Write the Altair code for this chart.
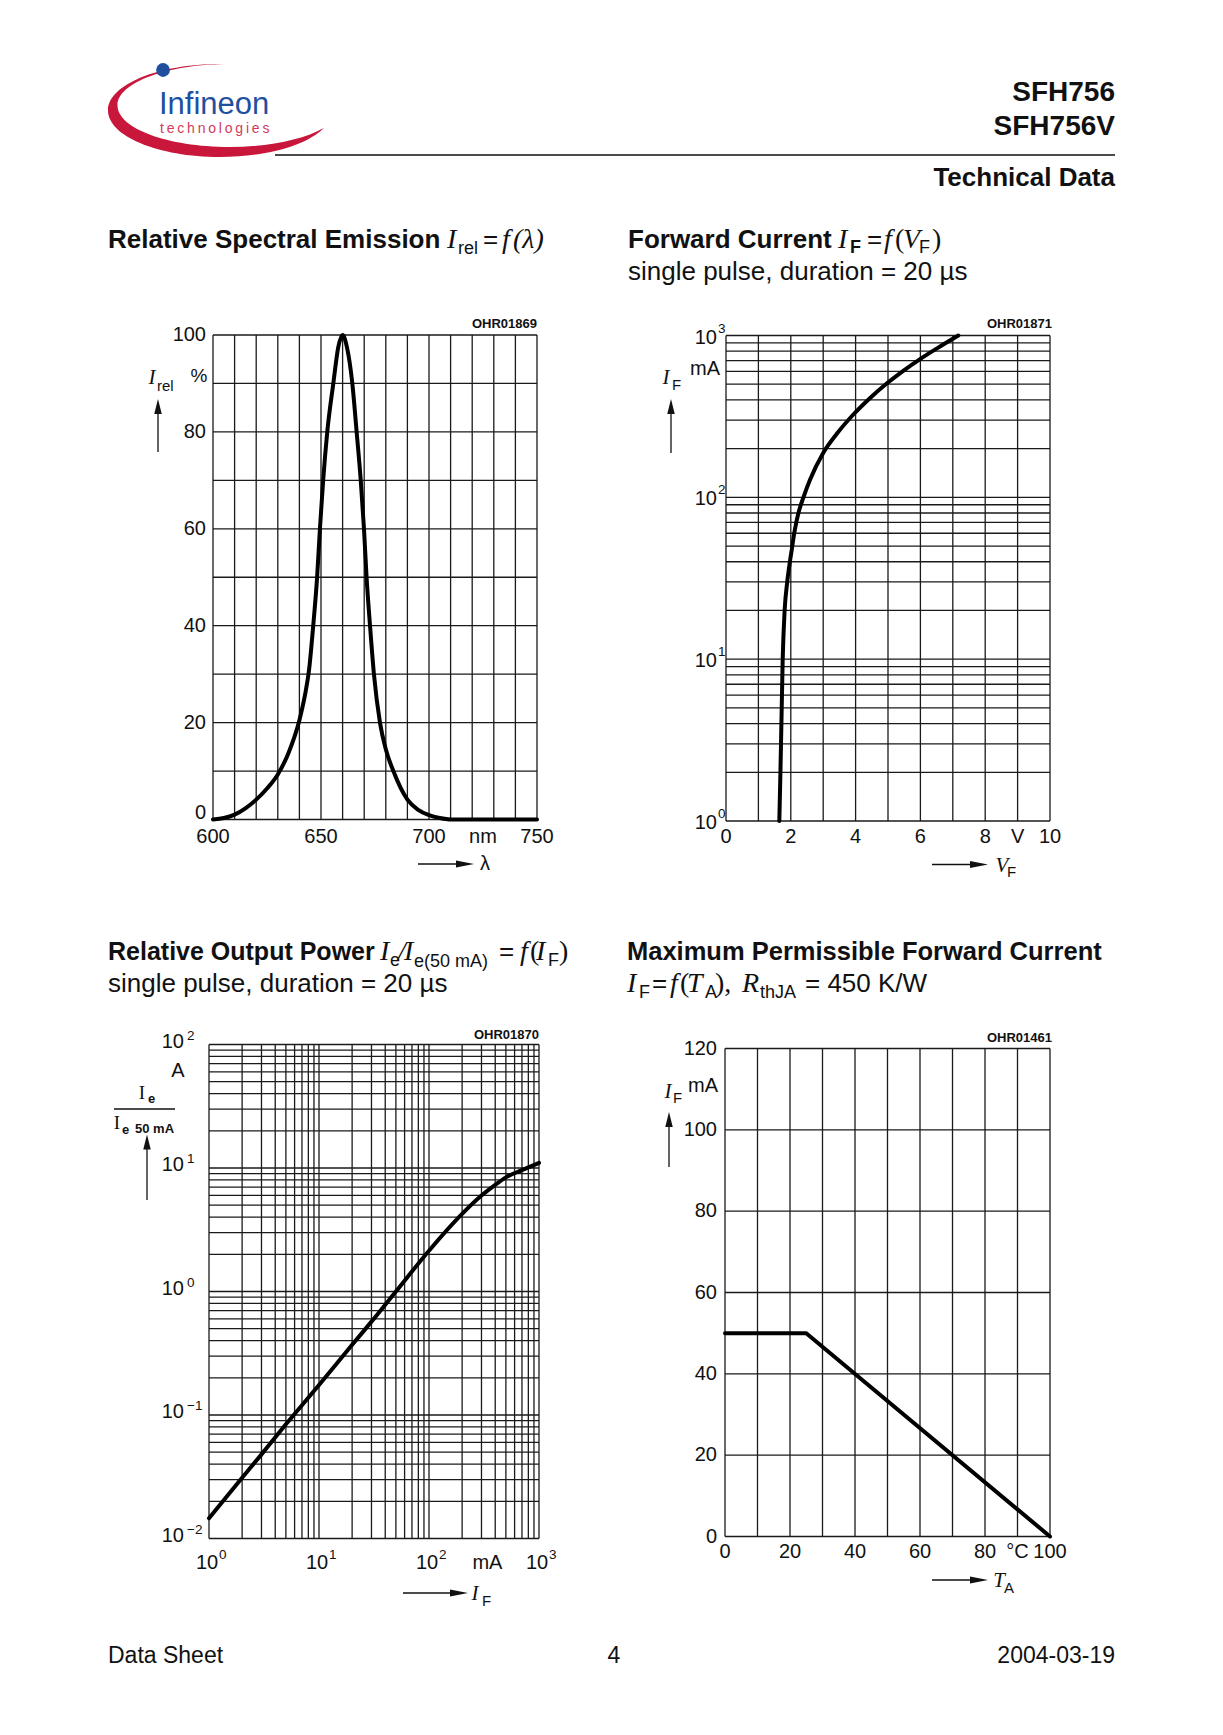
import altair as alt
import pandas as pd

# ---------------- data ----------------
# Relative spectral emission
WAVELENGTH_NM = [600, 605, 610, 615, 620, 625, 630, 635, 640, 642.5, 644.5, 646.4, 648.2,
                 649.5, 651.0, 652.9, 655.7, 658.0, 660.0, 662.0, 664.5, 666.5, 668.4,
                 669.9, 671.1, 672.7, 674.5, 677.3, 680, 683.5, 690, 695, 700, 705, 710, 720, 750]
I_REL_PCT = [0, 0.3, 1.0, 2.3, 4.1, 6.4, 9.3, 13.8, 20.5, 25.5, 31, 40, 50,
             60, 70, 80, 90, 97.5, 100, 97.5, 90, 80, 70,
             60, 50, 40, 30, 20, 14.5, 10, 4.1, 2.0, 0.9, 0.3, 0, 0, 0]

# Forward current vs forward voltage
VF_V = [1.646, 1.68, 1.71, 1.75, 1.81, 1.89, 1.98, 2.04, 2.10, 2.17, 2.25, 2.39, 2.59,
        3.00, 3.42, 3.93, 4.44, 4.96, 5.47, 5.99, 6.50, 7.17]
IF_MA = [1, 2, 4, 10, 20, 30, 41, 49, 59, 70, 82, 100, 128,
         188, 247, 325, 410, 505, 605, 715, 830, 1000]

# Relative output power vs forward current
IF3_MA = [1, 2, 3, 5, 10, 20, 30, 50, 100, 200, 300, 400, 500, 700, 1000]
IE_REL = [0.0146, 0.031, 0.048, 0.084, 0.175, 0.37, 0.57, 1.0, 2.14, 4.25, 5.98,
          7.3, 8.4, 9.6, 11.0]

# Maximum permissible forward current vs ambient temperature
TA_C = [0, 25, 100]
IF_MAX_MA = [50, 50, 0]

# ---------------- grids and tick labels ----------------
LOG_MANT = [1, 2, 3, 4, 5, 6, 7, 8, 9]

P1_XGRID = list(range(600, 751, 10))
P1_YGRID = list(range(0, 101, 10))
P1_XTICKS = [600, 650, 700, 725, 750]
P1_XTICK_LABELS = ["600", "650", "700", "nm", "750"]
P1_YTICKS = [20, 40, 60, 80, 100]
P1_YTICK_LABELS = ["20", "40", "60", "80", "100"]
P1_YZERO = [0]
P1_YZERO_LABEL = ["0"]

P2_XGRID = list(range(0, 11))
P2_DECADES = [1, 10, 100]
P2_YGRID = [m * d for d in P2_DECADES for m in LOG_MANT] + [1000]
P2_XTICKS = [0, 2, 4, 6, 8, 9, 10]
P2_XTICK_LABELS = ["0", "2", "4", "6", "8", "V", "10"]
P2_YTICKS = [1, 10, 100, 1000]
P2_YTICK_EXP = ["0", "1", "2", "3"]

P3_XDECADES = [1, 10, 100]
P3_XGRID = [m * d for d in P3_XDECADES for m in LOG_MANT] + [1000]
P3_YDECADES = [0.01, 0.1, 1, 10]
P3_YGRID = [m * d for d in P3_YDECADES for m in LOG_MANT] + [100]
P3_XTICKS = [1, 10, 100, 1000]
P3_XTICK_EXP = ["0", "1", "2", "3"]
P3_YTICKS = [0.01, 0.1, 1, 10, 100]
P3_YTICK_EXP = ["\u22122", "\u22121", "0", "1", "2"]

P4_XGRID = list(range(0, 101, 10))
P4_YGRID = list(range(0, 121, 20))
P4_XTICKS = [0, 20, 40, 60, 80, 90, 100]
P4_XTICK_LABELS = ["0", "20", "40", "60", "80", "\u00b0C", "100"]
P4_YTICKS = [0, 20, 40, 60, 80, 100, 120]
P4_YTICK_LABELS = ["0", "20", "40", "60", "80", "100", "120"]

# ---------------- styling ----------------
SANS = "Liberation Sans, Arial, Helvetica, sans-serif"
SERIF = "Liberation Serif, Times New Roman, serif"
INK = "#111111"
GRID = "#1a1a1a"
RED = "#c8173a"
PINK = "#d23a5c"
BLUE = "#1f4f9f"
TICK = 20
SUP = 13.5

OFF = 8  # page margin
def X(v):
    return v - OFF
def Y(v):
    return v - OFF

ONE = pd.DataFrame({"k": [0]})
layers = []


def txt(s, x, y, size=TICK, font=SANS, weight="normal", style="normal",
        align="left", color=INK, baseline="middle"):
    layers.append(
        alt.Chart(ONE).mark_text(text=s, fontSize=size, font=font, fontWeight=weight,
                                 fontStyle=style, align=align, baseline=baseline,
                                 color=color)
        .encode(x=alt.value(X(x)), y=alt.value(Y(y)))
    )


def hrule(x1, x2, y, width=1.3, color=INK):
    layers.append(alt.Chart(ONE).mark_rule(color=color, strokeWidth=width)
                  .encode(x=alt.value(X(x1)), x2=alt.value(X(x2)), y=alt.value(Y(y))))


def vrule(x, y1, y2, width=1.3, color=INK):
    layers.append(alt.Chart(ONE).mark_rule(color=color, strokeWidth=width)
                  .encode(x=alt.value(X(x)), y=alt.value(Y(y1)), y2=alt.value(Y(y2))))


def symbol(shape, x, y, size, color=INK):
    layers.append(alt.Chart(ONE).mark_point(shape=shape, size=size, filled=True,
                                            color=color, opacity=1, strokeWidth=0)
                  .encode(x=alt.value(X(x)), y=alt.value(Y(y))))


ARROW_UP = "M 0 -1 L 0.5 1 L -0.5 1 Z"
ARROW_RIGHT = "M 1 0 L -1 -0.4 L -1 0.4 Z"


def arrow_up(x, tip, bottom):
    vrule(x, tip + 8, bottom, 1.3)
    symbol(ARROW_UP, x, tip + 7.5, 225)


def arrow_right(x1, tip, y):
    hrule(x1, tip - 8, y, 1.3)
    symbol(ARROW_RIGHT, tip - 9, y, 324)


def lin(dom, r0, r1):
    return alt.Scale(type="linear", domain=dom, range=[r0, r1], nice=False, zero=False)


def logsc(dom, r0, r1):
    return alt.Scale(type="log", domain=dom, range=[r0, r1], nice=False)


def vgrid(vals, xs, top, bottom):
    layers.append(alt.Chart(pd.DataFrame({"v": vals})).mark_rule(color=GRID, strokeWidth=1.3)
                  .encode(x=alt.X("v:Q", scale=xs, axis=None),
                          y=alt.value(Y(top)), y2=alt.value(Y(bottom))))


def hgrid(vals, ys, left, right):
    layers.append(alt.Chart(pd.DataFrame({"v": vals})).mark_rule(color=GRID, strokeWidth=1.3)
                  .encode(y=alt.Y("v:Q", scale=ys, axis=None),
                          x=alt.value(X(left)), x2=alt.value(X(right))))


def curve(xv, yv, xs, ys, interp="monotone"):
    layers.append(alt.Chart(pd.DataFrame({"a": xv, "b": yv}))
                  .mark_line(color="black", strokeWidth=4, interpolate=interp,
                             strokeCap="round", strokeJoin="round")
                  .encode(x=alt.X("a:Q", scale=xs, axis=None),
                          y=alt.Y("b:Q", scale=ys, axis=None)))


def xlabels(vals, labels, xs, y, size=TICK, dx=0, align="center"):
    layers.append(alt.Chart(pd.DataFrame({"v": vals, "t": labels}))
                  .mark_text(fontSize=size, font=SANS, align=align, baseline="middle",
                             dx=dx, color=INK)
                  .encode(x=alt.X("v:Q", scale=xs, axis=None), y=alt.value(Y(y)),
                          text="t:N"))


def ylabels(vals, labels, ys, x, size=TICK, dy=0, align="right"):
    layers.append(alt.Chart(pd.DataFrame({"v": vals, "t": labels}))
                  .mark_text(fontSize=size, font=SANS, align=align, baseline="middle",
                             dy=dy, color=INK)
                  .encode(y=alt.Y("v:Q", scale=ys, axis=None), x=alt.value(X(x)),
                          text="t:N"))


# ---------------- header ----------------
SWOOSH = ("M 0 -0.415 C -0.5523 -0.415 -1 -0.2292 -1 0 "
          "C -1 0.2292 -0.5523 0.415 0 0.415 "
          "C 0.4076 0.415 0.774 0.3125 0.927 0.1556 "
          "C 0.739 0.2616 0.4236 0.325 0.085 0.325 "
          "C -0.4673 0.325 -0.915 0.1594 -0.915 -0.045 "
          "C -0.915 -0.2494 -0.4673 -0.415 0.085 -0.415 Z")
symbol(SWOOSH, 220, 110.5, 50176, RED)
symbol("circle", 163, 70, 190, BLUE)
txt("Infineon", 159, 114, 31, SANS, color=BLUE, baseline="alphabetic")
txt("\u2009".join("technologies"), 160, 133, 14, SANS, color=PINK, baseline="alphabetic")

RIGHT = 1115
txt("SFH756", RIGHT, 101, 28, SANS, "bold", align="right", baseline="alphabetic")
txt("SFH756V", RIGHT, 135, 28, SANS, "bold", align="right", baseline="alphabetic")
hrule(275, RIGHT, 155, 1.6)
txt("Technical Data", RIGHT, 186, 26, SANS, "bold", align="right", baseline="alphabetic")

# ---------------- section titles ----------------
B = "alphabetic"
# title 1
txt("Relative Spectral Emission", 108, 248, 26, SANS, "bold", baseline=B)
txt("I", 447, 248, 28, SERIF, style="italic", baseline=B)
txt("rel", 458, 254, 18, SANS, baseline=B)
txt("=", 483, 248, 26, SANS, baseline=B)
txt("f", 502, 248, 28, SERIF, style="italic", baseline=B)
txt("(\u03bb)", 513, 248, 28, SERIF, style="italic", baseline=B)
# title 2
txt("Forward Current", 628, 248, 26, SANS, "bold", baseline=B)
txt("I", 838, 248, 28, SERIF, style="italic", baseline=B)
txt("F", 850, 253, 18, SANS, "bold", baseline=B)
txt("=", 867, 248, 26, SANS, baseline=B)
txt("f", 884, 248, 28, SERIF, style="italic", baseline=B)
txt("(", 895, 248, 28, SERIF, baseline=B)
txt("V", 903, 248, 28, SERIF, style="italic", baseline=B)
txt("F", 919, 253, 18, SANS, baseline=B)
txt(")", 932, 248, 28, SERIF, baseline=B)
txt("single pulse, duration = 20 \u00b5s", 628, 280, 26, SANS, baseline=B)
# title 3
txt("Relative Output Power", 108, 960, 25, SANS, "bold", baseline=B)
txt("I", 380, 960, 28, SERIF, style="italic", baseline=B)
txt("e", 390, 966, 18, SANS, baseline=B)
txt("/", 398, 960, 28, SERIF, style="italic", baseline=B)
txt("I", 404, 960, 28, SERIF, style="italic", baseline=B)
txt("e(50 mA)", 414, 967, 18, SANS, baseline=B)
txt("=", 499, 960, 26, SANS, baseline=B)
txt("f", 520, 960, 28, SERIF, style="italic", baseline=B)
txt("(", 530, 960, 28, SERIF, baseline=B)
txt("I", 536, 960, 28, SERIF, style="italic", baseline=B)
txt("F", 548, 966, 18, SANS, baseline=B)
txt(")", 559, 960, 28, SERIF, baseline=B)
txt("single pulse, duration = 20 \u00b5s", 108, 992, 26, SANS, baseline=B)
# title 4
txt("Maximum Permissible Forward Current", 627, 960, 25.5, SANS, "bold", baseline=B)
txt("I", 627, 992, 28, SERIF, style="italic", baseline=B)
txt("F", 639, 998, 18, SANS, baseline=B)
txt("=", 652, 992, 26, SANS, baseline=B)
txt("f", 670, 992, 28, SERIF, style="italic", baseline=B)
txt("(", 680, 992, 28, SERIF, baseline=B)
txt("T", 687, 992, 28, SERIF, style="italic", baseline=B)
txt("A", 705, 998, 18, SANS, baseline=B)
txt("),", 715, 992, 28, SERIF, baseline=B)
txt("R", 742, 992, 28, SERIF, style="italic", baseline=B)
txt("thJA", 760, 998, 18, SANS, baseline=B)
txt("= 450 K/W", 805, 992, 26, SANS, baseline=B)

# ---------------- panel 1: spectral emission ----------------
L1, R1, T1, B1 = 213, 537, 335, 819.5
xs1 = lin([600, 750], X(L1), X(R1))
ys1 = lin([0, 100], Y(B1), Y(T1))
vgrid(P1_XGRID, xs1, T1, B1)
hgrid(P1_YGRID, ys1, L1, R1)
curve(WAVELENGTH_NM, I_REL_PCT, xs1, ys1)
xlabels(P1_XTICKS, P1_XTICK_LABELS, xs1, 837)
ylabels(P1_YTICKS, P1_YTICK_LABELS, ys1, 206)
ylabels(P1_YZERO, P1_YZERO_LABEL, ys1, 206, dy=-7)
txt("OHR01869", 537, 324, 13, SANS, "bold", align="right")
txt("%", 199, 376, 19, SANS, align="center")
txt("I", 152, 378, 21, SERIF, style="italic", align="center")
txt("rel", 157, 386, 15, SANS)
arrow_up(158, 399, 452)
arrow_right(418, 474, 864)
txt("\u03bb", 485, 864, 20, SANS, align="center")

# ---------------- panel 2: forward current ----------------
L2, R2, T2, B2 = 726, 1050, 335.5, 821
xs2 = lin([0, 10], X(L2), X(R2))
ys2 = logsc([1, 1000], Y(B2), Y(T2))
vgrid(P2_XGRID, xs2, T2, B2)
hgrid(P2_YGRID, ys2, L2, R2)
curve(VF_V, IF_MA, xs2, ys2)
xlabels(P2_XTICKS, P2_XTICK_LABELS, xs2, 837)
ylabels(P2_YTICKS, ["10"] * len(P2_YTICKS), ys2, 717, dy=2)
ylabels(P2_YTICKS, P2_YTICK_EXP, ys2, 718, size=SUP, dy=-7, align="left")
txt("OHR01871", 1052, 324, 13, SANS, "bold", align="right")
txt("mA", 705, 369, 20, SANS, align="center")
txt("I", 666, 378, 21, SERIF, style="italic", align="center")
txt("F", 672, 385, 15, SANS)
arrow_up(671, 399, 453)
arrow_right(932, 988, 864.5)
txt("V", 1002, 866, 21, SERIF, style="italic", align="center")
txt("F", 1007, 872, 15, SANS)

# ---------------- panel 3: relative output power ----------------
L3, R3, T3, B3 = 209, 539, 1044.5, 1538.5
xs3 = logsc([1, 1000], X(L3), X(R3))
ys3 = logsc([0.01, 100], Y(B3), Y(T3))
vgrid(P3_XGRID, xs3, T3, B3)
hgrid(P3_YGRID, ys3, L3, R3)
curve(IF3_MA, IE_REL, xs3, ys3)
xlabels(P3_XTICKS, ["10"] * len(P3_XTICKS), xs3, 1563, dx=-2)
xlabels(P3_XTICKS, P3_XTICK_EXP, xs3, 1555, size=SUP, dx=10, align="left")
xlabels([340], ["mA"], xs3, 1563)
ylabels(P3_YTICKS, ["10"] * len(P3_YTICKS), ys3, 184, dy=-3)
ylabels(P3_YTICKS, P3_YTICK_EXP, ys3, 187, size=SUP, dy=-9, align="left")
txt("OHR01870", 539, 1034.5, 13, SANS, "bold", align="right")
txt("A", 178, 1071, 20, SANS, align="center")
txt("I", 142, 1093, 19, SERIF, align="center")
txt("e", 148, 1099, 13, SANS, "bold")
hrule(114, 175, 1109, 1.3)
txt("I", 117, 1123, 19, SERIF, align="center")
txt("e", 122, 1130, 13, SANS, "bold")
txt("50 mA", 135, 1129, 13, SANS, "bold")
arrow_up(147, 1134.5, 1200)
arrow_right(403, 468, 1593)
txt("I", 475, 1594, 21, SERIF, style="italic", align="center")
txt("F", 482, 1601, 15, SANS)

# ---------------- panel 4: max permissible forward current ----------------
L4, R4, T4, B4 = 725, 1050, 1048.5, 1536.5
xs4 = lin([0, 100], X(L4), X(R4))
ys4 = lin([0, 120], Y(B4), Y(T4))
vgrid(P4_XGRID, xs4, T4, B4)
hgrid(P4_YGRID, ys4, L4, R4)
curve(TA_C, IF_MAX_MA, xs4, ys4, interp="linear")
xlabels(P4_XTICKS, P4_XTICK_LABELS, xs4, 1552)
ylabels(P4_YTICKS, P4_YTICK_LABELS, ys4, 717)
txt("OHR01461", 1052, 1038, 13, SANS, "bold", align="right")
txt("mA", 703, 1085.5, 20, SANS, align="center")
txt("I", 668, 1091.5, 21, SERIF, style="italic", align="center")
txt("F", 673, 1098, 15, SANS)
arrow_up(669, 1112, 1167)
arrow_right(932, 988, 1580)
txt("T", 999, 1581, 21, SERIF, style="italic", align="center")
txt("A", 1004, 1588, 15, SANS)

# ---------------- footer ----------------
txt("Data Sheet", 108, 1663, 23, SANS, baseline=B)
txt("4", 614, 1663, 23, SANS, align="center", baseline=B)
txt("2004-03-19", RIGHT, 1663, 23, SANS, align="right", baseline=B)

chart = (
    alt.layer(*layers)
    .resolve_scale(x="independent", y="independent")
    .properties(width=1207, height=1719, padding=0, background="white",
                autosize=alt.AutoSizeParams(type="none"))
    .configure_view(strokeWidth=0)
)

chart.save("out.html", embed_options={"renderer": "svg", "actions": False})
